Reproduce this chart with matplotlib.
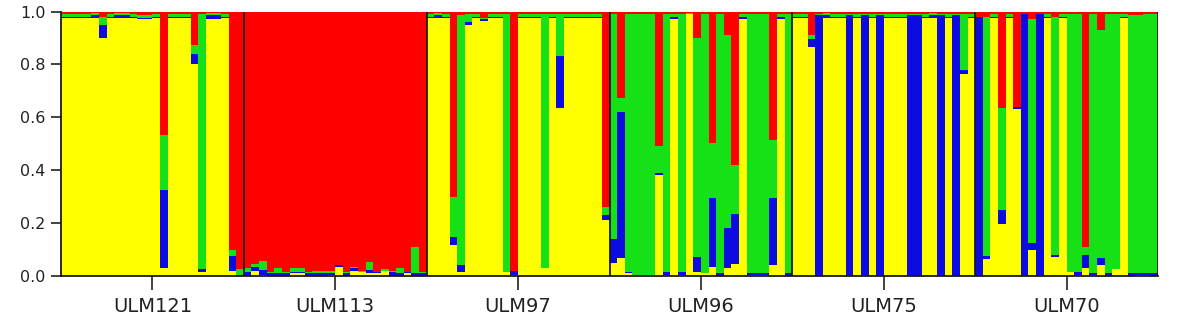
import numpy as np
import matplotlib
matplotlib.use("Agg")
import matplotlib.pyplot as plt

# populations, 24 individuals each
populations = ["ULM121", "ULM113", "ULM97", "ULM96", "ULM75", "ULM70"]
n_per_pop = 24

# cluster membership (Q) per individual
# stacking order bottom -> top: yellow, blue, green, red
yellow = [
    # ULM121
    0.975, 0.975, 0.975, 0.975, 0.975, 0.90, 0.975, 0.975, 0.975, 0.975, 0.97, 0.97,
    0.975, 0.03, 0.975, 0.975, 0.975, 0.80, 0.015, 0.97, 0.97, 0.975, 0.02, 0.0,
    # ULM113
    0.0, 0.02, 0.005, 0.0, 0.0, 0.0, 0.01, 0.01, 0.0, 0.0, 0.0, 0.005,
    0.035, 0.0, 0.02, 0.015, 0.01, 0.01, 0.02, 0.0, 0.0, 0.01, 0.0, 0.0,
    # ULM97
    0.975, 0.975, 0.975, 0.117, 0.015, 0.95, 0.975, 0.965, 0.975, 0.975, 0.015, 0.005,
    0.975, 0.975, 0.975, 0.03, 0.975, 0.636, 0.975, 0.975, 0.975, 0.975, 0.975, 0.21,
    # ULM96
    0.05, 0.068, 0.01, 0.005, 0.005, 0.005, 0.38, 0.005, 0.97, 0.005, 0.99, 0.015,
    0.01, 0.034, 0.0, 0.03, 0.045, 0.97, 0.005, 0.005, 0.005, 0.042, 0.97, 0.0,
    # ULM75
    0.975, 0.975, 0.865, 0.0, 0.975, 0.975, 0.975, 0.0, 0.975, 0.0, 0.975, 0.0,
    0.975, 0.975, 0.975, 0.0, 0.0, 0.975, 0.975, 0.0, 0.975, 0.0, 0.765, 0.975,
    # ULM70
    0.0, 0.065, 0.975, 0.197, 0.975, 0.63, 0.0, 0.10, 0.0, 0.975, 0.07, 0.975,
    0.015, 0.005, 0.03, 0.005, 0.042, 0.0, 0.025, 0.975, 0.0, 0.005, 0.005, 0.0,
]
blue = [
    # ULM121
    0.005, 0.005, 0.005, 0.005, 0.01, 0.05, 0.005, 0.01, 0.01, 0.005, 0.005, 0.005,
    0.005, 0.296, 0.005, 0.005, 0.005, 0.04, 0.01, 0.015, 0.015, 0.005, 0.055, 0.005,
    # ULM113
    0.015, 0.015, 0.018, 0.01, 0.01, 0.01, 0.005, 0.005, 0.01, 0.01, 0.01, 0.005,
    0.005, 0.01, 0.01, 0.0, 0.013, 0.005, 0.0, 0.015, 0.013, 0.005, 0.01, 0.01,
    # ULM97
    0.005, 0.01, 0.005, 0.031, 0.025, 0.01, 0.005, 0.005, 0.005, 0.005, 0.0, 0.015,
    0.005, 0.005, 0.005, 0.0, 0.005, 0.194, 0.005, 0.005, 0.005, 0.005, 0.005, 0.02,
    # ULM96
    0.09, 0.552, 0.005, 0.0, 0.0, 0.0, 0.01, 0.01, 0.01, 0.01, 0.0, 0.055,
    0.0, 0.26, 0.01, 0.15, 0.19, 0.01, 0.005, 0.005, 0.005, 0.253, 0.01, 0.01,
    # ULM75
    0.005, 0.005, 0.03, 0.985, 0.01, 0.005, 0.005, 0.985, 0.005, 0.985, 0.005, 0.985,
    0.005, 0.005, 0.005, 0.985, 0.985, 0.005, 0.01, 0.985, 0.005, 0.985, 0.015, 0.005,
    # ULM70
    0.98, 0.01, 0.005, 0.053, 0.005, 0.01, 0.99, 0.025, 0.99, 0.005, 0.01, 0.005,
    0.0, 0.01, 0.05, 0.005, 0.026, 0.01, 0.0, 0.005, 0.01, 0.005, 0.005, 0.01,
]
green = [
    # ULM121
    0.01, 0.01, 0.01, 0.01, 0.01, 0.03, 0.01, 0.01, 0.01, 0.01, 0.01, 0.01,
    0.01, 0.208, 0.01, 0.01, 0.01, 0.035, 0.965, 0.01, 0.01, 0.01, 0.025, 0.02,
    # ULM113
    0.015, 0.01, 0.035, 0.005, 0.02, 0.005, 0.015, 0.015, 0.005, 0.01, 0.01, 0.01,
    0.0, 0.005, 0.005, 0.005, 0.03, 0.0, 0.005, 0.005, 0.017, 0.0, 0.10, 0.005,
    # ULM97
    0.01, 0.01, 0.01, 0.152, 0.945, 0.03, 0.01, 0.005, 0.01, 0.01, 0.975, 0.0,
    0.01, 0.01, 0.01, 0.96, 0.01, 0.16, 0.01, 0.01, 0.01, 0.01, 0.01, 0.03,
    # ULM96
    0.85, 0.054, 0.975, 0.985, 0.985, 0.985, 0.10, 0.975, 0.01, 0.975, 0.005, 0.83,
    0.98, 0.21, 0.98, 0.73, 0.185, 0.01, 0.98, 0.98, 0.98, 0.22, 0.01, 0.98,
    # ULM75
    0.01, 0.01, 0.015, 0.005, 0.01, 0.01, 0.01, 0.005, 0.01, 0.005, 0.01, 0.005,
    0.01, 0.01, 0.01, 0.005, 0.005, 0.01, 0.01, 0.005, 0.01, 0.005, 0.21, 0.01,
    # ULM70
    0.0, 0.905, 0.01, 0.386, 0.01, 0.0, 0.0, 0.845, 0.0, 0.01, 0.90, 0.01,
    0.975, 0.975, 0.03, 0.98, 0.862, 0.98, 0.965, 0.01, 0.975, 0.975, 0.98, 0.98,
]
red = [
    # ULM121
    0.01, 0.01, 0.01, 0.01, 0.005, 0.02, 0.01, 0.005, 0.005, 0.01, 0.015, 0.015,
    0.01, 0.466, 0.01, 0.01, 0.01, 0.125, 0.01, 0.005, 0.005, 0.01, 0.90, 0.975,
    # ULM113
    0.97, 0.955, 0.942, 0.985, 0.97, 0.985, 0.97, 0.97, 0.985, 0.98, 0.98, 0.98,
    0.96, 0.985, 0.965, 0.98, 0.947, 0.985, 0.975, 0.98, 0.97, 0.985, 0.89, 0.985,
    # ULM97
    0.01, 0.005, 0.01, 0.70, 0.015, 0.01, 0.01, 0.025, 0.01, 0.01, 0.01, 0.98,
    0.01, 0.01, 0.01, 0.01, 0.01, 0.01, 0.01, 0.01, 0.01, 0.01, 0.01, 0.74,
    # ULM96
    0.01, 0.326, 0.01, 0.01, 0.01, 0.01, 0.51, 0.01, 0.01, 0.01, 0.005, 0.10,
    0.01, 0.496, 0.01, 0.09, 0.58, 0.01, 0.01, 0.01, 0.01, 0.485, 0.01, 0.01,
    # ULM75
    0.01, 0.01, 0.09, 0.01, 0.005, 0.01, 0.01, 0.01, 0.01, 0.01, 0.01, 0.01,
    0.01, 0.01, 0.01, 0.01, 0.01, 0.01, 0.005, 0.01, 0.01, 0.01, 0.01, 0.01,
    # ULM70
    0.02, 0.02, 0.01, 0.364, 0.01, 0.36, 0.01, 0.03, 0.01, 0.01, 0.02, 0.01,
    0.01, 0.01, 0.89, 0.01, 0.07, 0.01, 0.01, 0.01, 0.015, 0.015, 0.01, 0.01,
]

cluster_colors = ["#ffff00", "#0c0ce0", "#16e016", "#ff0000"]

fig = plt.figure(figsize=(12, 3.24), dpi=100)
ax = fig.add_axes([61 / 1200, 48 / 324, 1097 / 1200, 264.5 / 324])

x = np.arange(len(yellow)) + 0.5
bottom = np.zeros(len(yellow))
for vals, col in zip([yellow, blue, green, red], cluster_colors):
    vals = np.array(vals)
    ax.bar(x, vals, width=1.0, bottom=bottom, color=col, linewidth=0, align="center")
    bottom += vals

# population separators
for i in range(1, len(populations) + 1):
    ax.axvline(i * n_per_pop, color="#1a1a1a", lw=1.3)

ax.set_xlim(0, len(yellow))
ax.set_ylim(0, 1)

centers = [n_per_pop * (i + 0.5) for i in range(len(populations))]
ax.set_xticks(centers)
ax.set_xticklabels(populations)
ax.set_yticks([0, 0.2, 0.4, 0.6, 0.8, 1.0])
ax.set_yticklabels(["0.0", "0.2", "0.4", "0.6", "0.8", "1.0"])

ax.tick_params(axis="x", length=10, width=1.2, pad=5, labelsize=14, colors="#222222")
ax.tick_params(axis="y", length=7, width=1.2, pad=4, labelsize=11.5, colors="#222222")

for s in ["top", "right"]:
    ax.spines[s].set_visible(False)
for s in ["left", "bottom"]:
    ax.spines[s].set_linewidth(1.3)
    ax.spines[s].set_color("#1a1a1a")

fig.savefig("out.png", dpi=100)
